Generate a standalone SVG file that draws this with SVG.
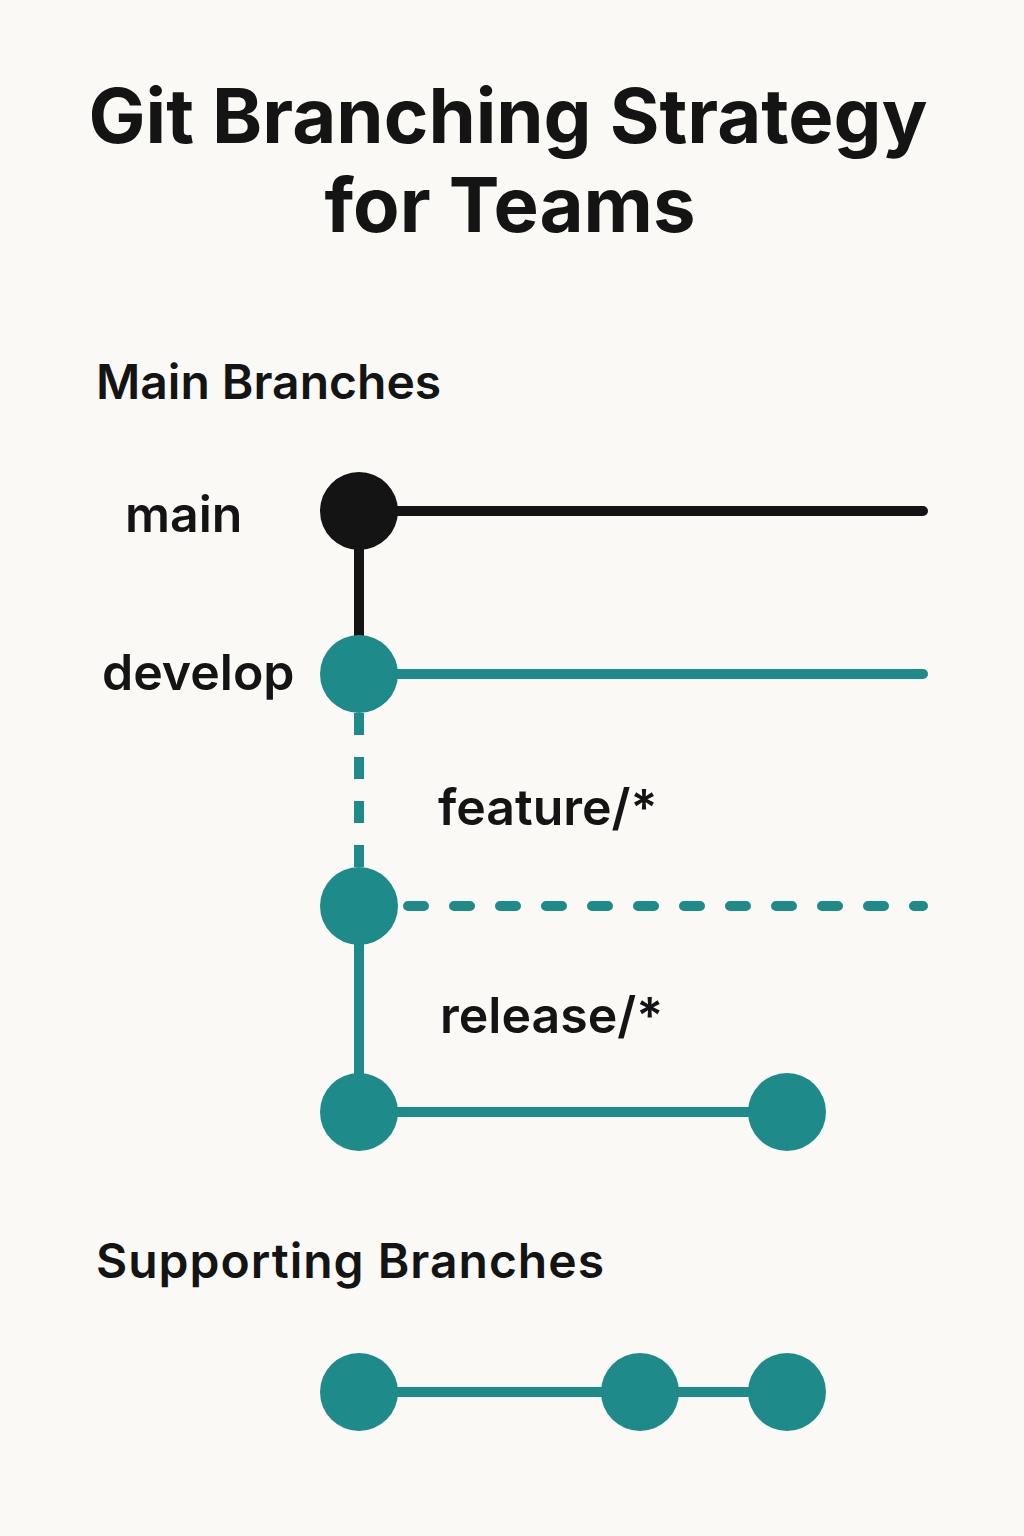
<svg xmlns="http://www.w3.org/2000/svg" width="1024" height="1536" viewBox="0 0 1024 1536">
<style>
text{font-family:"Inter","Liberation Sans",sans-serif;fill:#141414}
.t{font-size:76px;font-weight:700;text-anchor:middle}
.h{font-size:48px;font-weight:600}
.l{font-size:50px;font-weight:600}
.k{stroke:#141414;stroke-width:10;stroke-linecap:round;fill:none}
.g{stroke:#1F8A8A;stroke-width:10;stroke-linecap:round;fill:none}
.d{stroke:#1F8A8A;stroke-width:10;fill:none;stroke-dasharray:22 22}
.n{fill:#1F8A8A}
</style>
<rect width="1024" height="1536" fill="#FAF9F5"/>
<text class="t" x="508" y="143">Git Branching Strategy</text>
<text class="t" x="510" y="232">for Teams</text>
<text class="h" x="96" y="399">Main Branches</text>
<text class="h" x="96" y="1278" textLength="508">Supporting Branches</text>
<g id="connectors">
<line class="k" x1="359" y1="511" x2="923" y2="511"/>
<line class="k" x1="359" y1="511" x2="359" y2="674"/>
<line class="g" x1="359" y1="674" x2="923" y2="674"/>
<line class="d" x1="359" y1="713" x2="359" y2="870"/>
<line class="g" x1="408" y1="906" x2="923" y2="906" style="stroke-dasharray:16 30"/>
<line class="g" x1="359" y1="906" x2="359" y2="1112"/>
<line class="g" x1="359" y1="1112" x2="787" y2="1112"/>
<line class="g" x1="359" y1="1392" x2="787" y2="1392"/>
</g>
<g id="main"><circle cx="359" cy="511" r="39" fill="#141414"/><text class="l" x="125" y="532">main</text></g>
<g id="develop"><circle class="n" cx="359" cy="674" r="39"/><text class="l" x="102" y="690">develop</text></g>
<g id="feature"><circle class="n" cx="359" cy="906" r="39"/><text class="l" x="438" y="825">feature/*</text></g>
<g id="release"><circle class="n" cx="359" cy="1112" r="39"/><circle class="n" cx="787" cy="1112" r="39"/><text class="l" x="440" y="1033">release/*</text></g>
<g id="supporting"><circle class="n" cx="359" cy="1392" r="39"/><circle class="n" cx="640" cy="1392" r="39"/><circle class="n" cx="787" cy="1392" r="39"/></g>
</svg>
